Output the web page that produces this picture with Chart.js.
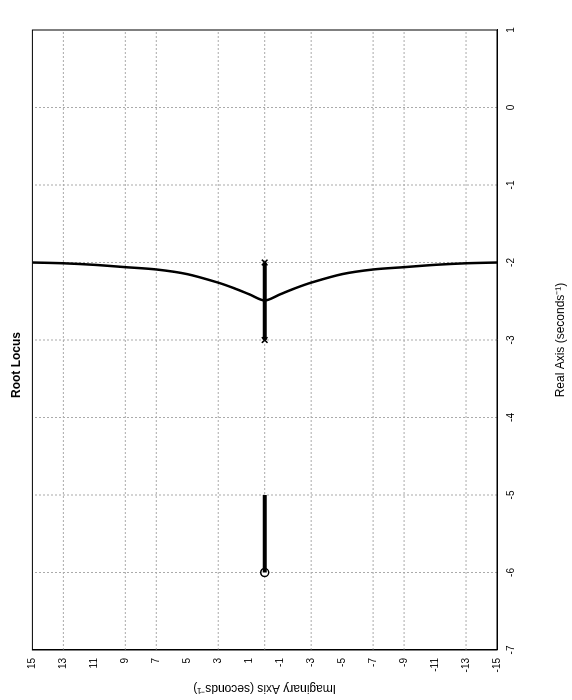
<!DOCTYPE html>
<html><head><meta charset="utf-8">
<script src="https://cdn.jsdelivr.net/npm/chart.js@4"></script>
<style>
html,body{margin:0;padding:0;background:#fff;overflow:hidden;width:572px;height:700px;position:relative}
#c{position:absolute;left:-64px;top:64px;transform:rotate(-90deg);}
</style></head><body>
<canvas id="c" width="700" height="572"></canvas>
<script>
const locusImag = [15,13,11,9,7,5,3,2,1,0,-1,-2,-3,-5,-7,-9,-11,-13,-15];
const locusReal = [-2.0,-2.01,-2.03,-2.06,-2.09,-2.15,-2.26,-2.33,-2.41,-2.49,-2.41,-2.33,-2.26,-2.15,-2.09,-2.06,-2.03,-2.01,-2.0];
const seg1Real = [-3,-2];
const seg2Real = [-6,-5];
const polesReal = [-2,-3];
const zerosReal = [-6];
const imagGrid = [13,9,7,3,0,-3,-7,-9,-13];
const realGrid = [0,-1,-2,-3,-4,-5,-6];
const imagTicks = [15,13,11,9,7,5,3,1,-1,-3,-5,-7,-9,-11,-13,-15];

const ds = [];
imagGrid.forEach(v=>ds.push({order:10,data:[{x:-7,y:v},{x:1,y:v}],borderColor:'#aaa',borderWidth:1,borderDash:[2,2],pointRadius:0,showLine:true}));
realGrid.forEach(v=>ds.push({order:10,data:[{x:v,y:-15},{x:v,y:15}],borderColor:'#aaa',borderWidth:1,borderDash:[2,2],pointRadius:0,showLine:true}));
ds.push({order:1,data:locusImag.map((y,i)=>({x:locusReal[i],y})),borderColor:'#000',borderWidth:2.5,pointRadius:0,showLine:true,tension:0.3});
ds.push({order:0,data:seg1Real.map(x=>({x,y:0})),borderColor:'#000',borderWidth:4,pointRadius:0,showLine:true});
ds.push({order:0,data:seg2Real.map(x=>({x,y:0})),borderColor:'#000',borderWidth:4,pointRadius:0,showLine:true});
ds.push({order:0,data:polesReal.map(x=>({x,y:0})),pointStyle:'crossRot',pointRadius:4,borderColor:'#000',borderWidth:1.5,showLine:false});
ds.push({order:0,data:zerosReal.map(x=>({x,y:0})),pointStyle:'circle',pointRadius:4,borderColor:'#000',backgroundColor:'#fff',borderWidth:1.5,showLine:false});

Chart.defaults.font.family='"Liberation Sans", Arial, sans-serif';
Chart.defaults.color='#000';
new Chart(document.getElementById('c'),{
 type:'scatter',
 data:{datasets:ds},
 options:{
  responsive:false,animation:false,devicePixelRatio:1,
  layout:{padding:{left:0,right:30,top:0,bottom:0}},
  plugins:{legend:{display:false},tooltip:{enabled:false},
   title:{display:true,text:'Root Locus',font:{size:12,weight:'bold'},padding:{top:9,bottom:9}}},
  scales:{
   x:{type:'linear',min:-7,max:1,
    ticks:{stepSize:1,font:{size:10},maxRotation:0},
    grid:{display:false,drawTicks:true,tickLength:5},
    border:{color:'#000'},
    title:{display:true,text:'Real Axis (seconds\u207B\u00B9)',font:{size:12},padding:{top:8}},
    afterFit(s){s.height=75;}},
   y:{type:'linear',min:-15,max:15,
    afterBuildTicks(s){s.ticks=imagTicks.map(v=>({value:v}));},
    ticks:{font:{size:10}},
    grid:{display:false,tickLength:5},
    border:{color:'#000'},
    title:{display:true,text:'Imaginary Axis (seconds\u207B\u00B9)',font:{size:12},padding:{bottom:2}},
    afterFit(s){s.width=50;}}
  }
 },
 plugins:[{id:'frame',afterDraw(c){const a=c.chartArea,x=c.ctx;x.save();x.strokeStyle='#000';x.lineWidth=1;x.strokeRect(a.left,a.top,a.right-a.left,a.bottom-a.top);x.restore();}}]
});
</script></body></html>
